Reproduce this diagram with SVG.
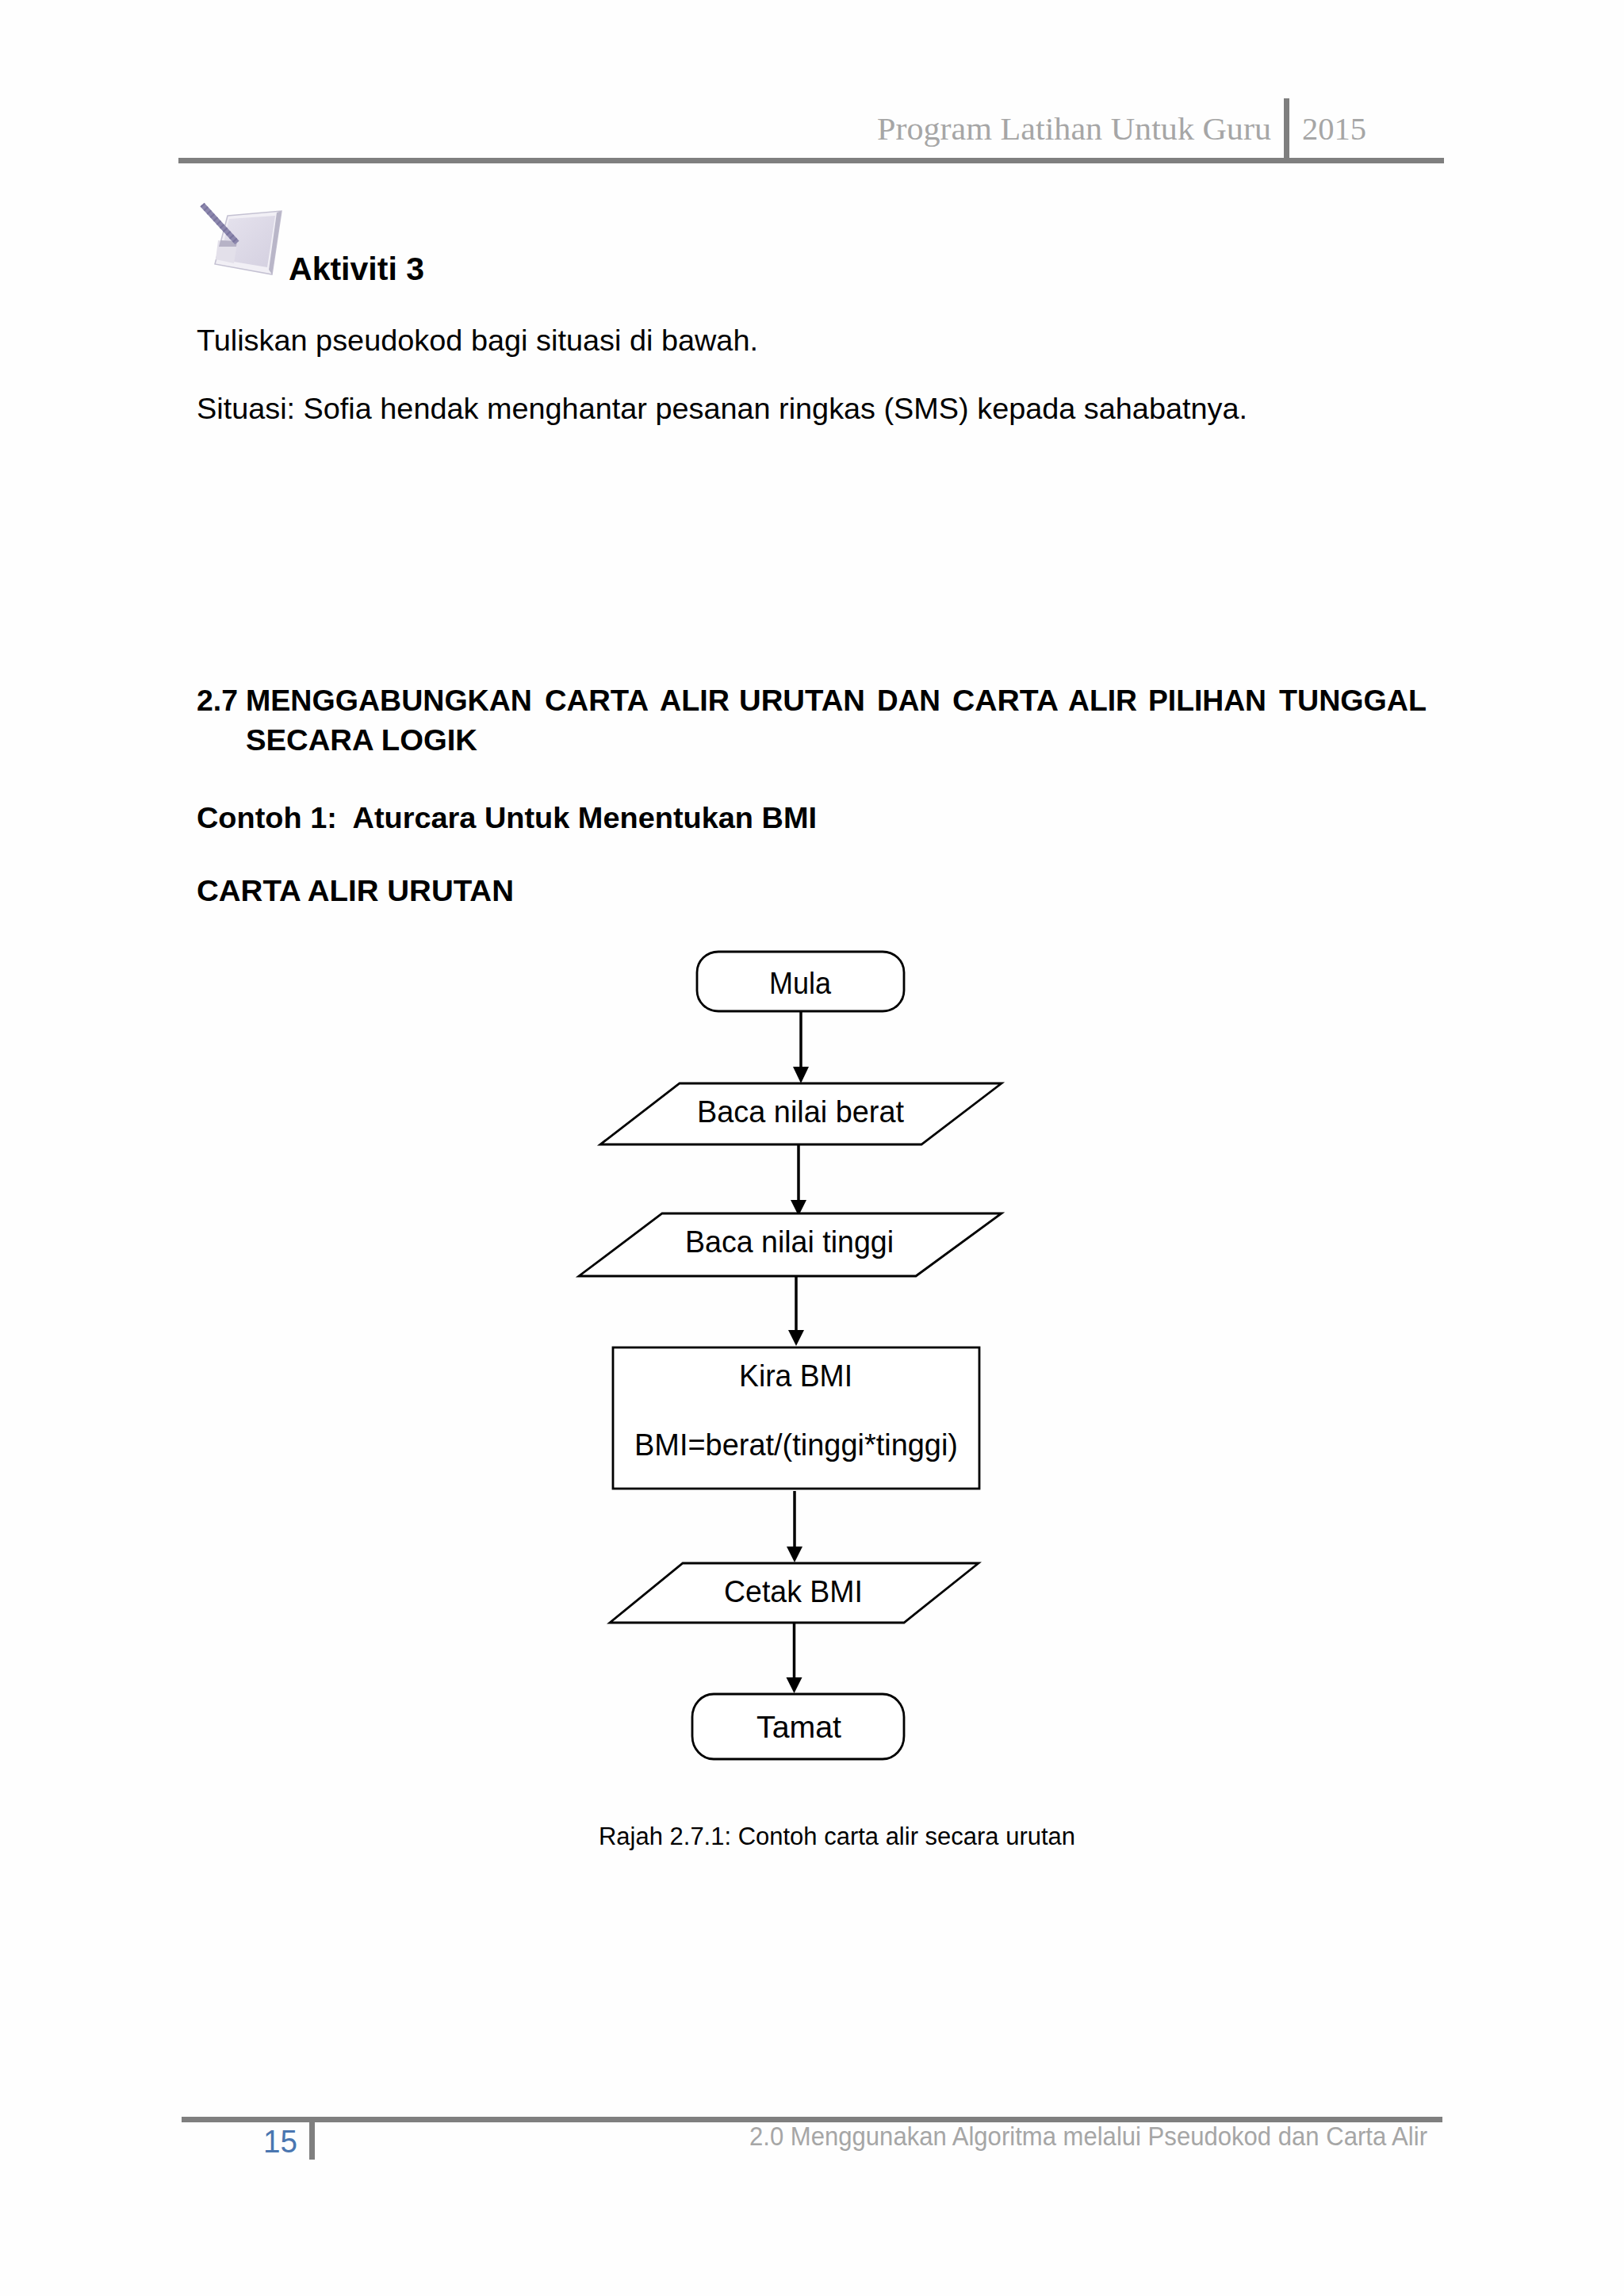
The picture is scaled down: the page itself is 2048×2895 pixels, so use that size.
<svg xmlns="http://www.w3.org/2000/svg" width="2048" height="2895" viewBox="0 0 2048 2895">
<style>
text{font-family:"Liberation Sans",Arial,sans-serif;fill:#000}
.b{font-weight:700;font-size:36px}
.t{font-size:36px}
.f{font-size:38px}
.h{font-family:"Liberation Serif","Times New Roman",serif;font-size:41px;fill:#a6a6a6}
.r{fill:#7f7f7f}
.s{fill:#fff;stroke:#000;stroke-width:2.8}
.c{stroke:#000;stroke-width:3.5;fill:none}
.a{fill:#000}
</style>
<defs>
<linearGradient id="tab" x1="0" y1="0" x2="1" y2="1"><stop offset="0" stop-color="#e6e3ee"/><stop offset="1" stop-color="#d4d0e0"/></linearGradient>
</defs>
<rect width="2048" height="2895" fill="#fefefe"/>
<g id="header">
<rect class="r" x="225" y="199" width="1596" height="7"/>
<rect class="r" x="1619" y="124" width="7" height="76"/>
<text class="h" x="1106" y="176" textLength="497" lengthAdjust="spacingAndGlyphs">Program Latihan Untuk Guru</text>
<text class="h" x="1642" y="176" textLength="81" lengthAdjust="spacingAndGlyphs">2015</text>
</g>
<g id="icon">
<polygon points="287,272 355,266 343,346 271,333" fill="#f1eff5" stroke="#c4c1d2" stroke-width="1.5"/>
<polygon points="289,276 347,272 337,337 277,327" fill="url(#tab)"/>
<polygon points="275,303 299,307 295,332 272,327" fill="#e3e0ea"/>
<polygon points="278,303 299,304 298,311 276,311" fill="#b6b2c6"/>
<polygon points="349,268 355,266 343,346 339,340" fill="#b9b6c8"/>
<line x1="255" y1="258" x2="299" y2="306" stroke="#8c87ad" stroke-width="7"/>
<line x1="255" y1="258" x2="299" y2="306" stroke="#6f6a96" stroke-width="7" stroke-dasharray="2 4" opacity=".6"/>
</g>
<g id="text">
<text class="b" x="364" y="353" style="font-size:40px" textLength="171" lengthAdjust="spacingAndGlyphs">Aktiviti 3</text>
<text class="t" x="248" y="442" textLength="708" lengthAdjust="spacingAndGlyphs">Tuliskan pseudokod bagi situasi di bawah.</text>
<text class="t" x="248" y="528" textLength="1325" lengthAdjust="spacingAndGlyphs">Situasi: Sofia hendak menghantar pesanan ringkas (SMS) kepada sahabatnya.</text>
<text class="b" x="248" y="896" textLength="52" lengthAdjust="spacingAndGlyphs">2.7</text>
<text class="b" x="310" y="896" textLength="361" lengthAdjust="spacingAndGlyphs">MENGGABUNGKAN</text>
<text class="b" x="687" y="896" textLength="131" lengthAdjust="spacingAndGlyphs">CARTA</text>
<text class="b" x="832" y="896" textLength="88" lengthAdjust="spacingAndGlyphs">ALIR</text>
<text class="b" x="932" y="896" textLength="159" lengthAdjust="spacingAndGlyphs">URUTAN</text>
<text class="b" x="1106" y="896" textLength="80" lengthAdjust="spacingAndGlyphs">DAN</text>
<text class="b" x="1201" y="896" textLength="134" lengthAdjust="spacingAndGlyphs">CARTA</text>
<text class="b" x="1347" y="896" textLength="87" lengthAdjust="spacingAndGlyphs">ALIR</text>
<text class="b" x="1448" y="896" textLength="149" lengthAdjust="spacingAndGlyphs">PILIHAN</text>
<text class="b" x="1613" y="896" textLength="186" lengthAdjust="spacingAndGlyphs">TUNGGAL</text>
<text class="b" x="310" y="946" textLength="292" lengthAdjust="spacingAndGlyphs">SECARA LOGIK</text>
<text class="b" x="248" y="1044" textLength="782" lengthAdjust="spacingAndGlyphs" xml:space="preserve">Contoh 1:  Aturcara Untuk Menentukan BMI</text>
<text class="b" x="248" y="1136" textLength="400" lengthAdjust="spacingAndGlyphs">CARTA ALIR URUTAN</text>
<text x="755" y="2326" style="font-size:31px" textLength="601" lengthAdjust="spacingAndGlyphs">Rajah 2.7.1: Contoh carta alir secara urutan</text>
</g>
<g id="connectors">
<line class="c" x1="1010" y1="1275" x2="1010" y2="1346"/><polygon class="a" points="1000,1345 1020,1345 1010,1366"/>
<line class="c" x1="1007" y1="1443" x2="1007" y2="1514"/><polygon class="a" points="997,1513 1017,1513 1007,1533"/>
<line class="c" x1="1004" y1="1606" x2="1004" y2="1678"/><polygon class="a" points="994,1677 1014,1677 1004,1697"/>
<line class="c" x1="1002" y1="1880" x2="1002" y2="1951"/><polygon class="a" points="992,1950 1012,1950 1002,1970"/>
<line class="c" x1="1001.5" y1="2045" x2="1001.5" y2="2116"/><polygon class="a" points="991.5,2115 1011.5,2115 1001.5,2135"/>
</g>
<g id="mula">
<rect class="s" x="879" y="1200" width="261" height="75" rx="27" ry="26"/>
<text class="f" x="1009" y="1253" text-anchor="middle" textLength="78" lengthAdjust="spacingAndGlyphs">Mula</text>
</g>
<g id="baca-berat">
<polygon class="s" points="857,1366 1263,1366 1162,1443 757,1443"/>
<text class="f" x="879" y="1415" textLength="261" lengthAdjust="spacingAndGlyphs">Baca nilai berat</text>
</g>
<g id="baca-tinggi">
<polygon class="s" points="835,1530 1263,1530 1155,1609 730,1609"/>
<text class="f" x="864" y="1579" textLength="263" lengthAdjust="spacingAndGlyphs">Baca nilai tinggi</text>
</g>
<g id="kira">
<rect class="s" x="773" y="1699" width="462" height="178"/>
<text class="f" x="932" y="1748" textLength="143" lengthAdjust="spacingAndGlyphs">Kira BMI</text>
<text class="f" x="800" y="1835" textLength="408" lengthAdjust="spacingAndGlyphs">BMI=berat/(tinggi*tinggi)</text>
</g>
<g id="cetak">
<polygon class="s" points="861,1971 1234,1971 1140,2046 769,2046"/>
<text class="f" x="913" y="2020" textLength="175" lengthAdjust="spacingAndGlyphs">Cetak BMI</text>
</g>
<g id="tamat">
<rect class="s" x="873" y="2136" width="267" height="82" rx="27" ry="29"/>
<text class="f" x="954" y="2191" textLength="107" lengthAdjust="spacingAndGlyphs">Tamat</text>
</g>
<g id="footer">
<rect class="r" x="229" y="2669" width="1590" height="7"/>
<rect class="r" x="390" y="2676" width="7" height="47"/>
<text x="332" y="2714" style="font-size:40px;fill:#4a76b0" textLength="43" lengthAdjust="spacingAndGlyphs">15</text>
<text x="945" y="2705" style="font-size:33px;fill:#a6a6a6" textLength="855" lengthAdjust="spacingAndGlyphs">2.0 Menggunakan Algoritma melalui Pseudokod dan Carta Alir</text>
</g>
</svg>
